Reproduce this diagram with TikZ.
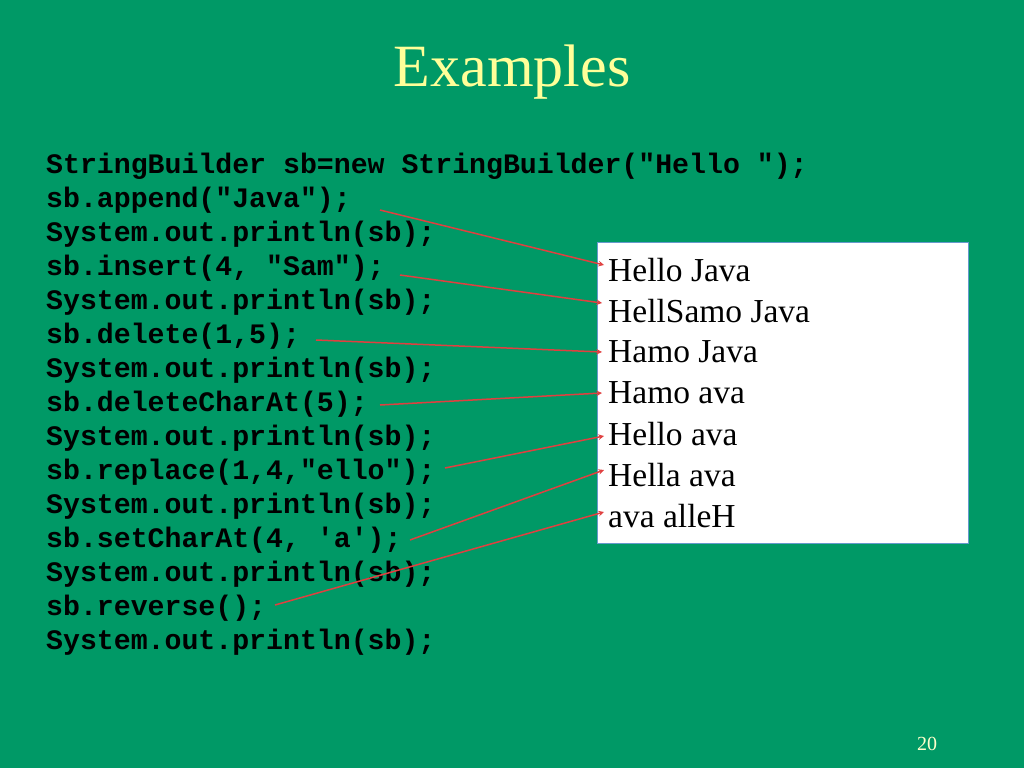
\documentclass[tikz,border=0pt]{standalone}
\usepackage{fontspec}
\setmainfont{Liberation Serif}
\newfontfamily\codefont{Liberation Mono}
\definecolor{bg}{HTML}{009966}
\definecolor{ttl}{HTML}{FFFF99}
\definecolor{arr}{HTML}{E04040}
\definecolor{bx}{HTML}{6699CC}
\begin{document}
\begin{tikzpicture}[x=1pt,y=-1pt,
  code/.style={anchor=west,inner sep=0,font=\codefont\bfseries\fontsize{28.2}{30}\selectfont,text=black},
  outtext/.style={anchor=west,inner sep=0,font=\fontsize{33.5}{36}\selectfont,text=black},
  arrline/.style={draw=arr,line width=1.5pt,-stealth}]
\fill[bg] (0,0) rectangle (1024,768);
\useasboundingbox (0,0) rectangle (1024,768);
\node[text=ttl,font=\fontsize{60}{64}\selectfont] (title) at (512,72) {Examples};
\foreach \i/\t in {0/{StringBuilder sb=new StringBuilder("Hello ");},1/{sb.append("Java");},2/{System.out.println(sb);},3/{sb.insert(4, "Sam");},4/{System.out.println(sb);},5/{sb.delete(1,5);},6/{System.out.println(sb);},7/{sb.deleteCharAt(5);},8/{System.out.println(sb);},9/{sb.replace(1,4,"ello");},10/{System.out.println(sb);},11/{sb.setCharAt(4, 'a');},12/{System.out.println(sb);},13/{sb.reverse();},14/{System.out.println(sb);}}
  \node[code] (c\i) at (46,166+34*\i) {\t};
\node[draw=bx,line width=1pt,fill=white,minimum width=371,minimum height=301,anchor=north west,inner sep=0] (box) at (597,242) {};
\foreach \i/\t in {0/Hello Java,1/HellSamo Java,2/Hamo Java,3/Hamo ava,4/Hello ava,5/Hella ava,6/ava alleH}
  \node[outtext] (o\i) at (608,270+41*\i) {\t};
\coordinate (s0) at (380,210);
\coordinate (s1) at (400,275);
\coordinate (s2) at (316,340);
\coordinate (s3) at (380,405);
\coordinate (s4) at (445,468);
\coordinate (s5) at (410,540);
\coordinate (s6) at (275,605);
\coordinate (e0) at (604,265);
\coordinate (e1) at (602,303);
\coordinate (e2) at (602,352);
\coordinate (e3) at (602,393);
\coordinate (e4) at (604,436);
\coordinate (e5) at (604,470);
\coordinate (e6) at (604,512);
\foreach \i in {0,...,6} \draw[arrline] (s\i) -- (e\i);
\node[text=ttl!50!white,font=\fontsize{20}{22}\selectfont] (pg) at (927,744) {20};
\end{tikzpicture}
\end{document}
